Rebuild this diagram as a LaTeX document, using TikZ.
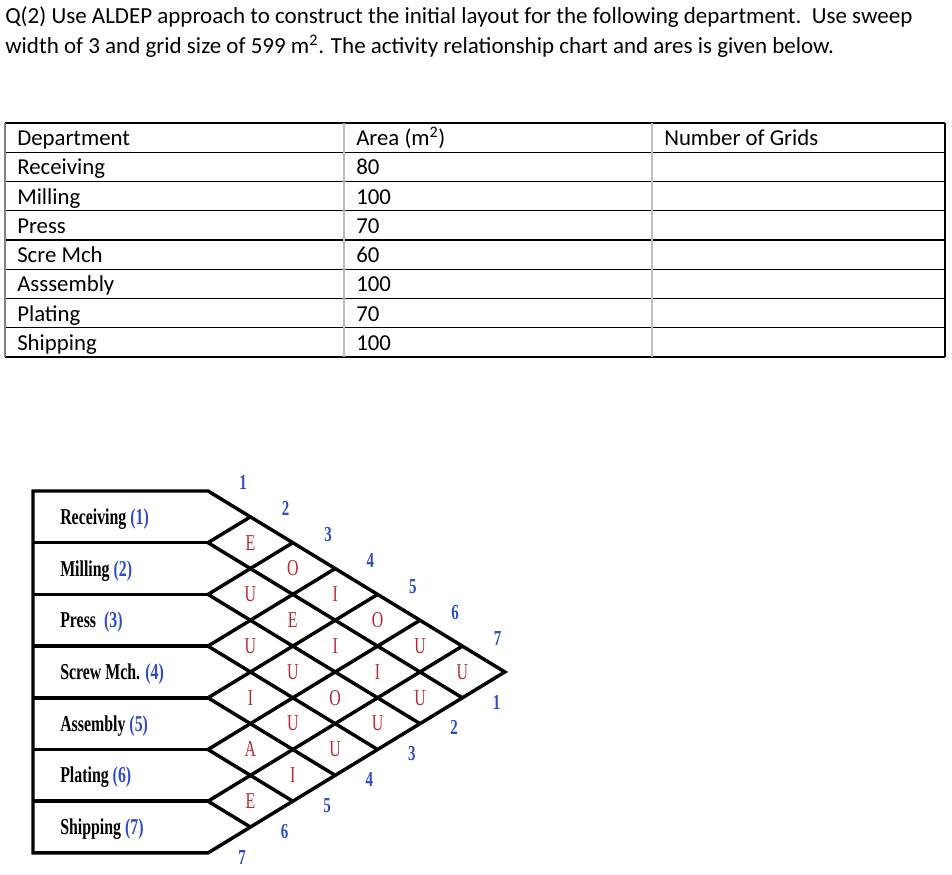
\documentclass[tikz,border=0pt]{standalone}
\usepackage{fontspec}
\setmainfont{Carlito}
\newfontfamily\chartfont[FakeStretch=0.7]{Liberation Serif}
\usepackage{tikz,xcolor}

\definecolor{relred}{RGB}{185,40,50}
\definecolor{numblue}{RGB}{45,75,205}
\definecolor{gridgray}{RGB}{190,190,190}

\begin{document}
\begin{tikzpicture}[x=0.75pt,y=-0.75pt]
\tikzstyle{Text}=[anchor=base west, inner sep=0pt, font=\fontsize{17.1}{20}\selectfont]
\tikzstyle{Rule}=[line width=1pt]
\tikzstyle{Sep}=[line width=1.2pt, gridgray]
\tikzstyle{Chart}=[line width=2.6pt]
\tikzstyle{Dept}=[anchor=base west, inner sep=0pt, font=\chartfont\bfseries\fontsize{17}{20}\selectfont]
\tikzstyle{Rel}=[inner sep=0pt, text=relred, font=\chartfont\fontsize{17}{20}\selectfont]
\tikzstyle{Num}=[inner sep=0pt, text=numblue, font=\chartfont\bfseries\fontsize{16}{20}\selectfont]

\useasboundingbox (0,0) rectangle (952,874);

% question
\node[Text, font=\fontsize{17.25}{20}\selectfont] (q1) at (5,24) {Q(2) Use ALDEP approach to construct the initial layout for the following department.\ \ Use sweep};
\node[Text, font=\fontsize{17.25}{20}\selectfont] (q2) at (5,54) {width of 3 and grid size of 599 m\textsuperscript{2}. The activity relationship chart and ares is given below.};

% table
\foreach \k in {0,...,8}
  \draw[Rule] (5,{123+29.25*\k}) -- (945,{123+29.25*\k});
\draw[Rule, gray] (5,123) -- (5,357);
\draw[Rule] (945,123) -- (945,357);
\draw[Sep] (344,123) -- (344,357);
\draw[Sep] (652,123) -- (652,357);

\node[Text] (dhead) at (17,145.7) {Department};
\node[Text] (ahead) at (356,145.7) {Area (m\textsuperscript{2})};
\node[Text] (nhead) at (664,145.7) {Number of Grids};
\foreach \name/\area [count=\i] in {Receiving/80, Milling/100, Press/70, Scre Mch/60, Asssembly/100, Plating/70, Shipping/100} {
  \node[Text] (dep\i) at (17,{145.7+29.25*\i}) {\name};
  \node[Text] (area\i) at (356,{145.7+29.25*\i}) {\area};
}

% relationship chart
\foreach \k in {0,...,7} {
  \coordinate (l\k) at (33,{491+51.7*\k});
  \coordinate (b\k) at (208,{491+51.7*\k});
  \coordinate (t\k) at ({208+42.4*\k},{491+25.85*\k});
  \coordinate (u\k) at ({208+42.4*(7-\k)},{491+25.85*(7+\k)});
}
\draw[Chart] (l0) -- (l7) -- (b7) -- (t7) -- (b0) -- cycle;
\foreach \k in {1,...,6} {
  \draw[Chart] (l\k) -- (b\k);
  \draw[Chart] (u\k) -- (b\k) -- (t\k);
}

\foreach \name [count=\i] in {Receiving, Milling, {Press\ }, Screw Mch., Assembly, Plating, Shipping}
  \node[Dept] (name\i) at (60,{491+51.7*(\i-0.5)+7.5}) {\name{} \textcolor{numblue}{(\i)}};

\foreach \i/\j/\r in {1/2/E, 1/3/O, 1/4/I, 1/5/O, 1/6/U, 1/7/U,
                      2/3/U, 2/4/E, 2/5/I, 2/6/I, 2/7/U,
                      3/4/U, 3/5/U, 3/6/O, 3/7/U,
                      4/5/I, 4/6/U, 4/7/U,
                      5/6/A, 5/7/I,
                      6/7/E}
  \node[Rel] (r\i\j) at ({208+42.4*(\j-\i)},{491+25.85*(\i+\j-1)}) {\r};

\foreach \k in {1,...,7} {
  \node[Num] (top\k) at ({208+42.4*(\k-0.5)+14},{491+25.85*(\k-0.5)-21}) {\k};
  \node[Num] (bot\k) at ({208+42.4*(7.5-\k)+13},{853-25.85*(7.5-\k)+17}) {\k};
}

\end{tikzpicture}
\end{document}
